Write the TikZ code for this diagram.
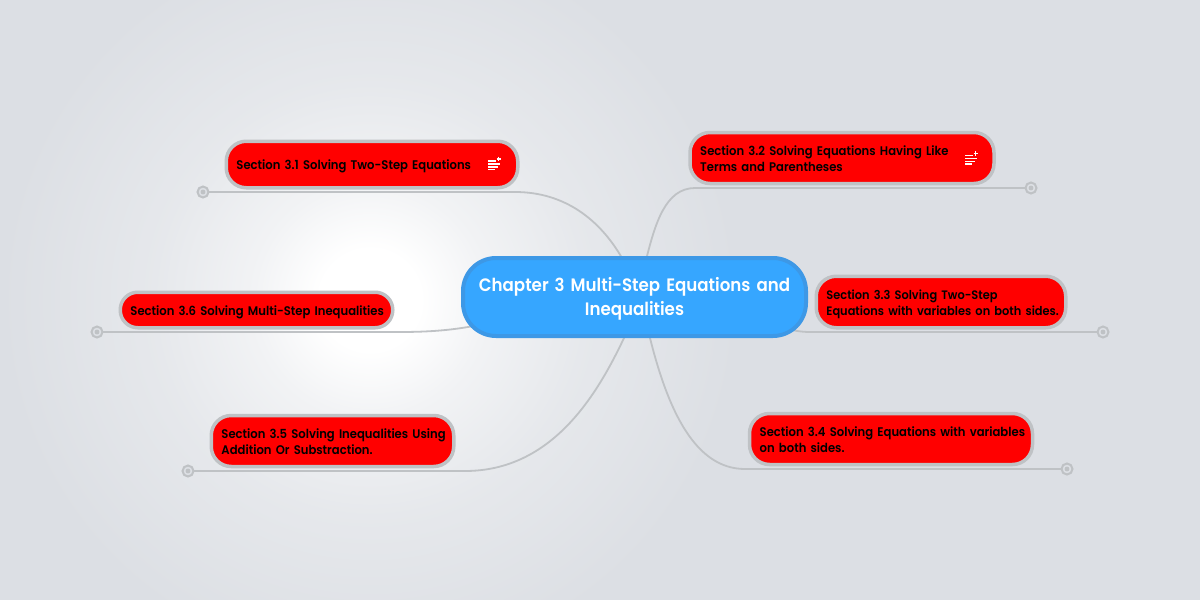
\documentclass[tikz,border=0pt]{standalone}
\usepackage{fontspec}
\setmainfont[BoldFont={Poppins SemiBold},BoldFeatures={FakeStretch=0.93}]{Poppins}
\newfontfamily\rootfont[BoldFont={Poppins SemiBold},BoldFeatures={FakeStretch=0.925}]{Poppins}
\usetikzlibrary{calc}
\definecolor{bgc}{HTML}{DCDFE4}
\definecolor{linec}{HTML}{BFC2C5}
\definecolor{secred}{HTML}{FF0000}
\definecolor{rootfill}{HTML}{36A6FF}
\definecolor{rootline}{HTML}{3D98E6}
\pgfdeclareradialshading{bgshade}{\pgfpoint{0bp}{0bp}}{color(0bp)=(white); color(3bp)=(white); color(7bp)=(white!62!bgc); color(13bp)=(white!28!bgc); color(22bp)=(bgc); color(50bp)=(bgc)}
\pgfdeclarelayer{conn}
\pgfsetlayers{conn,main}
\newcommand{\tline}[2]{\raisebox{-#1pt}[\height][\depth]{#2}}
\tikzset{
  x=1pt,y=-1pt,
  secbox/.style={draw=linec,fill=secred,line width=3.5pt,rounded corners=20pt,inner xsep=10.2pt,inner ysep=0pt,align=left,text=black,font=\fontsize{12.5}{16}\selectfont\bfseries},
  rootbox/.style={draw=rootline,fill=rootfill,line width=4pt,rounded corners=33pt,inner xsep=10pt,inner ysep=0pt,align=center,text=white,font=\fontsize{18}{24.5}\selectfont\bfseries},
  enddot/.style={circle,draw=linec,fill=bgc,line width=2pt,minimum size=11pt,inner sep=0pt,path picture={\fill[linec] (path picture bounding box.center) circle (2.4pt);}},
  conn/.style={draw=linec,line width=1.8pt},
  iconline/.style={draw=white,line width=1.3pt}
}
\newcommand{\noteicon}[1]{%
  \draw[iconline] ($(#1)+(-6,-2.5)$) -- ($(#1)+(2,-2.5)$);
  \draw[iconline] ($(#1)+(-6,0.5)$) -- ($(#1)+(6,0.5)$);
  \draw[iconline] ($(#1)+(-6,3.5)$) -- ($(#1)+(4,3.5)$);
  \draw[iconline] ($(#1)+(-6,6)$) -- ($(#1)+(1,6)$);
  \draw[iconline] ($(#1)+(2.5,-4.5)$) -- ($(#1)+(7,-4.5)$);
  \draw[iconline] ($(#1)+(4.75,-6.8)$) -- ($(#1)+(4.75,-2.2)$);
}
\begin{document}
\begin{tikzpicture}
\useasboundingbox (0,0) rectangle (1200,600);
\begin{pgfonlayer}{conn}
  \fill[bgc] (0,0) rectangle (1200,600);
  \begin{scope}
    \clip (0,0) rectangle (1200,600);
    \shade[shading=bgshade] (370-420,300-420) rectangle (370+420,300+420);
  \end{scope}
\end{pgfonlayer}

\node[rootbox,minimum width=343pt,minimum height=78pt,text width=323pt] (root) at (634.5,297) {\rootfont\bfseries \tline{2}{Chapter 3 Multi-Step Equations and}\\\tline{2}{Inequalities}};

\node[secbox,minimum width=291.5pt,minimum height=46.5pt,text width=271.1pt] (s31) at (372,164.5) {\tline{2}{Section 3.1 Solving Two-Step Equations}};
\node[secbox,minimum width=304pt,minimum height=51pt,text width=283.6pt] (s32) at (842,158) {\tline{1}{Section 3.2 Solving Equations Having Like}\\\tline{1}{Terms and Parentheses}};
\node[secbox,minimum width=249.5pt,minimum height=51.5pt,text width=229.1pt] (s33) at (941,302) {\fontsize{12.25}{16}\selectfont\tline{2}{Section 3.3 Solving Two-Step}\\\tline{2}{Equations with variables on both sides.}};
\node[secbox,minimum width=283pt,minimum height=51pt,text width=262.6pt] (s34) at (891,439) {\tline{1}{Section 3.4 Solving Equations with variables}\\\tline{1}{on both sides.}};
\node[secbox,minimum width=242.5pt,minimum height=51pt,text width=222.1pt] (s35) at (332.5,441) {\tline{1}{Section 3.5 Solving Inequalities Using}\\\tline{1}{Addition Or Substraction.}};
\node[secbox,rounded corners=17.5pt,minimum width=272.5pt,minimum height=35.5pt,text width=252.1pt] (s36) at (256.5,310) {\tline{2}{Section 3.6 Solving Multi-Step Inequalities}};

\node[enddot] (d31) at (203,192) {};
\node[enddot] (d32) at (1031,188) {};
\node[enddot] (d33) at (1103,332) {};
\node[enddot] (d34) at (1067,469) {};
\node[enddot] (d35) at (188,471) {};
\node[enddot] (d36) at (97,332) {};

\begin{pgfonlayer}{conn}
  \draw[conn] (d31.center) -- (515,192) .. controls (565,192) and (600,220) .. (622,258) -- (root.center);
  \draw[conn] (d32.center) -- (695,188) .. controls (665,188) and (655,225) .. (646.5,258) -- (root.center);
  \draw[conn] (d33.center) -- (810,332) .. controls (800,332) and (790,330) .. (780,327) -- (root.center);
  \draw[conn] (d34.center) -- (745,469) .. controls (695,469) and (668,410) .. (650,338) -- (root.center);
  \draw[conn] (d35.center) -- (465,471) .. controls (552,471) and (597,395) .. (624,338) -- (root.center);
  \draw[conn] (d36.center) -- (400,332) .. controls (430,332) and (450,330) .. (468,327) -- (root.center);
\end{pgfonlayer}

\noteicon{494,163.5}
\noteicon{971,158}
\end{tikzpicture}
\end{document}
